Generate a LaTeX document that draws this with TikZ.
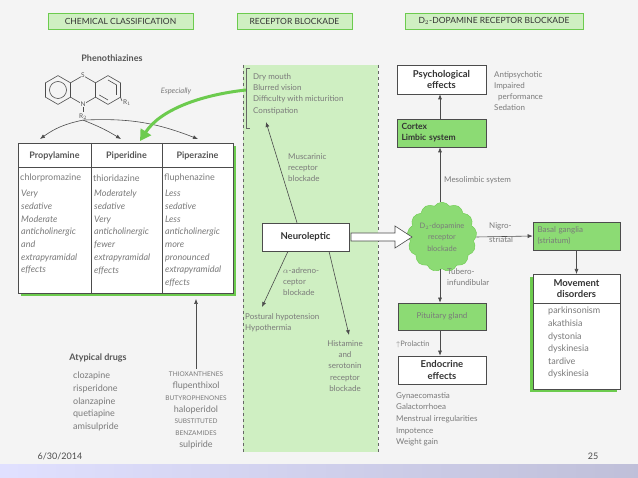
\documentclass[tikz,border=0pt]{standalone}
\usepackage{fontspec}
\setmainfont{Lato}
\usetikzlibrary{shapes.symbols,arrows.meta}
\definecolor{bg}{HTML}{F4F4F4}
\definecolor{lg}{HTML}{CFEFC2}
\definecolor{mg}{HTML}{8CDB74}
\definecolor{gb}{HTML}{6CCB4E}
\definecolor{tx}{HTML}{555555}
\definecolor{lt}{HTML}{7A7A7A}
\begin{document}
\begin{tikzpicture}[x=1pt,y=-1pt,
  every node/.style={font=\fontsize{9}{11}\selectfont,text=tx,inner sep=0pt},
  hdr/.style={draw=gb,fill=lg,line width=0.8pt,minimum height=16pt,font=\fontsize{8.5}{10}\selectfont,text=black!80},
  box/.style={draw=black!70,fill=white,line width=0.6pt,align=center,font=\bfseries\fontsize{9.5}{11.5}\selectfont,text=black!80},
  gbox/.style={box,fill=mg},
  lite/.style={text=lt,align=left},
  arr/.style={-{Latex[length=5pt,width=4pt]},draw=black!70,line width=0.6pt}]
\useasboundingbox (0,0) rectangle (638,478);
\fill[bg] (0,0) rectangle (638,465);
\shade[left color=blue!12!white,right color=blue!25!gray!40] (0,465) rectangle (638,478);
% headers
\node[hdr,minimum width=145pt] (h1) at (120.5,21) {CHEMICAL CLASSIFICATION};
\node[hdr,minimum width=115pt] (h2) at (294.5,21) {RECEPTOR BLOCKADE};
\node[hdr,minimum width=178pt] (h3) at (494,21) {D$_2$-DOPAMINE RECEPTOR BLOCKADE};
% green panel
\fill[lg] (243,65) rectangle (378,452);
\draw[dashed,black!60,line width=0.7pt] (243,65) -- (243,452) (378,65) -- (378,452);
% phenothiazines
\node[font=\bfseries\fontsize{9}{11}\selectfont] (phen) at (112,58) {Phenothiazines};
\begin{scope}[draw=black!70,line width=0.6pt]
\foreach \cx in {58,83,108}{
 \draw ({\cx+14.4*cos(30)},{90-14.4*sin(30)}) \foreach \a in {90,150,...,390}{ -- ({\cx+14.4*cos(\a)},{90-14.4*sin(\a)})};
}
\draw (58,90) circle (8.5);
\draw ({108+10*cos(90)},{90-10*sin(90)}) -- ({108+10*cos(30)},{90-10*sin(30)});
\draw ({108+10*cos(210)},{90-10*sin(210)}) -- ({108+10*cos(270)},{90-10*sin(270)});
\draw ({108+10*cos(330)},{90-10*sin(330)}) -- ({108+10*cos(30)},{90-10*sin(30)});
\draw (83,104.4) -- (83,112);
\draw ({108+14.4*cos(-30)},{90-14.4*sin(-30)}) -- (122,101);
\end{scope}
\node[fill=bg,inner sep=0.5pt,font=\fontsize{6.5}{7}\selectfont] (S) at (83,75.6) {S};
\node[fill=bg,inner sep=0.5pt,font=\fontsize{6.5}{7}\selectfont] (N) at (83,104.4) {N};
\node[font=\fontsize{6.5}{7}\selectfont] (R1) at (127,103) {R$_1$};
\node[font=\fontsize{6.5}{7}\selectfont] (R2) at (83,117) {R$_2$};
\coordinate (c1) at (40,139); \coordinate (c2) at (121,139); \coordinate (c3) at (198,139);
\draw[arr] (R2.south) to[bend right=12] (c1);
\draw[arr] (R2.south) to[bend left=5] (c2);
\draw[arr] (R2.south) to[bend left=12] (c3);
% table
\fill[gb] (21,146) rectangle (236,296);
\draw[black!70,fill=white,line width=0.7pt] (18,143) rectangle (233,293);
\draw[black!70,line width=0.6pt] (18,167) -- (233,167) (91,143) -- (91,293) (162,143) -- (162,293);
\node[font=\bfseries\fontsize{9}{11}\selectfont] (t1) at (54.5,156) {Propylamine};
\node[font=\bfseries\fontsize{9}{11}\selectfont] (t2) at (126.5,156) {Piperidine};
\node[font=\bfseries\fontsize{9}{11}\selectfont] (t3) at (197.5,156) {Piperazine};
\node[lite,anchor=west] (d1) at (20,178) {chlorpromazine};
\node[lite,anchor=west] (d2) at (93,178) {thioridazine};
\node[lite,anchor=west] (d3) at (164,178) {fluphenazine};
\node[lite,anchor=north west,font=\itshape\fontsize{9}{12.7}\selectfont] (e1) at (21,190) {Very\\sedative\\Moderate\\anticholinergic\\and\\extrapyramidal\\effects};
\node[lite,anchor=north west,font=\itshape\fontsize{9}{12.7}\selectfont] (e2) at (94,190) {Moderately\\sedative\\Very\\anticholinergic\\fewer\\extrapyramidal\\effects};
\node[lite,anchor=north west,font=\itshape\fontsize{9}{12.7}\selectfont] (e3) at (165,190) {Less\\sedative\\Less\\anticholinergic\\more\\pronounced\\extrapyramidal\\effects};
% especially arrow
\node[lite,font=\itshape\fontsize{7.5}{9}\selectfont] (esp) at (176,91) {Especially};
\coordinate (br) at (246,90);
\coordinate (bt) at (140,141);
\draw[gb,line width=3pt,-{Triangle[length=11pt,width=12pt]}] (br) .. controls (200,95) and (160,110) .. (bt);
% bracket list
\draw[black!60,line width=0.6pt] (250,68) -- (246,68) -- (246,128) -- (250,128);
\node[lite,anchor=north west,font=\fontsize{8}{11.4}\selectfont] (dry) at (253,73) {Dry mouth\\Blurred vision\\Difficulty with micturition\\Constipation};
% neuroleptic
\node[box,minimum width=87pt,minimum height=28pt] (neu) at (305.5,237) {Neuroleptic};
\coordinate (dryend) at (266,122);
\draw[arr] ([xshift=-8.5pt]neu.north) -- (dryend);
\node[lite,anchor=north west,font=\fontsize{8}{11.4}\selectfont] (musc) at (288,153) {Muscarinic\\receptor\\blockade};
\node[lite,anchor=north west,font=\fontsize{8}{11.4}\selectfont] (alpha) at (283,267) {$\alpha$-adreno-\\ceptor\\blockade};
\coordinate (post) at (262,307);
\draw[arr] ([xshift=-17.5pt]neu.south) -- (post);
\node[lite,anchor=north west,font=\fontsize{8}{11.4}\selectfont] (postt) at (245,313) {Postural hypotension\\Hypothermia};
\coordinate (hist) at (349,335);
\draw[arr] ([xshift=23.5pt]neu.south) -- (hist);
\node[lite,align=center,anchor=north,font=\fontsize{8}{11.4}\selectfont] (histt) at (345,340) {Histamine\\and\\serotonin\\receptor\\blockade};
% cloud
\node[cloud,cloud puffs=13,cloud puff arc=110,draw=gb,fill=mg,minimum width=66pt,minimum height=58pt,align=center,font=\fontsize{7.5}{11.5}\selectfont,text=lt] (cl) at (442,237) {D$_2$-dopamine\\receptor\\blockade};
% hollow arrow
\draw[black!70,fill=white,line width=0.6pt] (351,233) -- (395,233) -- (395,226) -- (412,237) -- (395,248) -- (395,241) -- (351,241) -- cycle;
% right column
\node[box,minimum width=89pt,minimum height=29pt] (psy) at (441.5,79.5) {Psychological\\effects};
\node[lite,anchor=north west,font=\fontsize{8}{11.2}\selectfont] (anti) at (494,71) {Antipsychotic\\Impaired\\\hspace*{4pt}performance\\Sedation};
\node[gbox,minimum width=89pt,minimum height=28pt,align=left,text width=80pt,font=\bfseries\fontsize{8.5}{11}\selectfont] (ctx) at (441.5,133) {Cortex\\Limbic system};
\draw[arr] (ctx.north -| 440,0) -- (psy.south -| 440,0);
\draw[arr] (cl.north -| 440,0) -- (ctx.south -| 440,0);
\node[lite,anchor=west,font=\fontsize{8}{9}\selectfont] (meso) at (444,180) {Mesolimbic system};
\node[gbox,minimum width=87pt,minimum height=28pt,font=\fontsize{8}{11}\selectfont,text=lt,align=left,text width=78pt] (bg) at (576.5,236) {Basal ganglia\\(striatum)};
\draw[arr] (cl.east) -- (bg.west);
\node[lite,anchor=north west,font=\fontsize{8}{14}\selectfont] (nig) at (489,222) {Nigro-\\striatal};
% movement disorders
\fill[gb] (530,277) rectangle (617,392);
\node[box,minimum width=87pt,minimum height=115pt,anchor=north] (mov) at (576.5,274) {};
\draw[black!70,line width=0.6pt] (533,303) -- (620,303);
\node[font=\bfseries\fontsize{9.5}{11.5}\selectfont,align=center,text=black!80] (movt) at (576.5,288.5) {Movement\\disorders};
\node[lite,anchor=north west,font=\fontsize{9}{12.6}\selectfont] (movl) at (548,307) {parkinsonism\\akathisia\\dystonia\\dyskinesia\\tardive\\dyskinesia};
\draw[arr] (bg.south) -- (mov.north);
% pituitary
\node[gbox,minimum width=88pt,minimum height=27pt,font=\fontsize{8}{10}\selectfont,text=lt] (pit) at (442,316.5) {Pituitary gland};
\draw[arr] (cl.south -| 440,0) -- (pit.north -| 440,0);
\node[lite,anchor=north west,font=\fontsize{8}{11}\selectfont] (tub) at (447,268) {Tubero-\\infundibular};
\node[box,minimum width=88pt,minimum height=28pt] (endo) at (442,370) {Endocrine\\effects};
\draw[arr] (pit.south -| 440,0) -- (endo.north -| 440,0);
\node[lite,anchor=west,font=\fontsize{7.5}{9}\selectfont] (prol) at (396,344) {$\uparrow$Prolactin};
\node[lite,anchor=north west,font=\fontsize{8}{11.7}\selectfont] (gyn) at (396,392) {Gynaecomastia\\Galactorrhoea\\Menstrual irregularities\\Impotence\\Weight gain};
% atypical
\node[font=\bfseries\fontsize{9}{11}\selectfont] (aty) at (98,358) {Atypical drugs};
\node[lite,anchor=north west,font=\fontsize{9}{12.7}\selectfont] (atyl) at (73,372) {clozapine\\risperidone\\olanzapine\\quetiapine\\amisulpride};
\node[lite,align=center,anchor=north,font=\fontsize{9}{11.7}\selectfont] (thio) at (196,372) {{\fontsize{6.5}{7}\selectfont THIOXANTHENES}\\flupenthixol\\{\fontsize{6.5}{7}\selectfont BUTYROPHENONES}\\haloperidol\\{\fontsize{6.5}{7}\selectfont SUBSTITUTED}\\{\fontsize{6.5}{7}\selectfont BENZAMIDES}\\sulpiride};
\coordinate (tabb) at (196,299);
\draw[arr] (thio.north) ++(0,-3) -- (tabb);
% footer
\node[font=\fontsize{9}{11}\selectfont,text=black!70] (date) at (60,456) {6/30/2014};
\node[font=\fontsize{9}{11}\selectfont,text=black!70] (pg) at (593,456) {25};
\end{tikzpicture}
\end{document}
